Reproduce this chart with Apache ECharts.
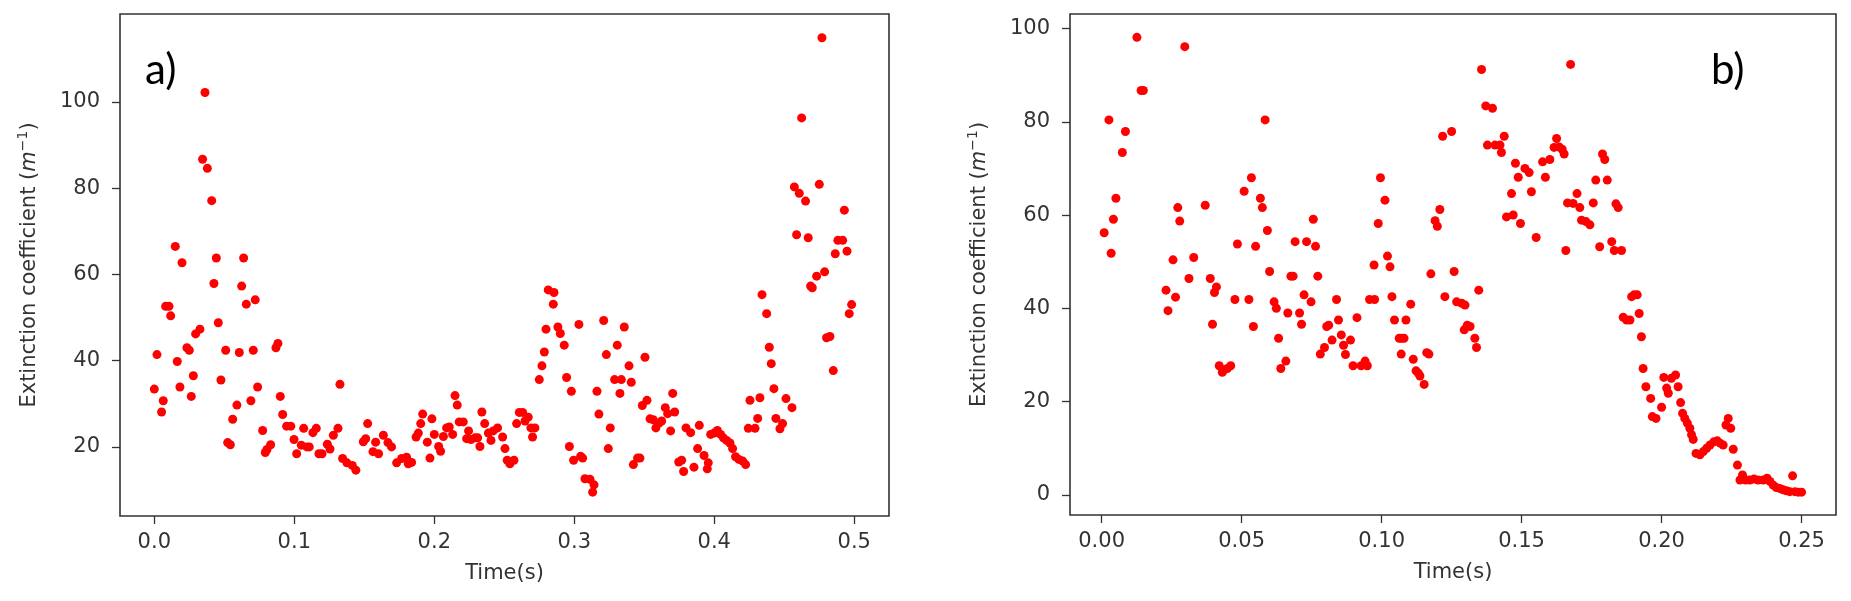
<!DOCTYPE html>
<html>
<head>
<meta charset="utf-8">
<script src="https://cdn.jsdelivr.net/npm/echarts@6/dist/echarts.min.js"></script>
<style>
  html, body { margin: 0; padding: 0; background: #fff; }
  #chart { width: 1851px; height: 601px; }
</style>
</head>
<body>
<div id="chart"></div>
<script>
// panel a) time (s) and extinction coefficient (1/m)
var timeA = [0.0000, 0.0019, 0.0052, 0.0064, 0.0081, 0.0105, 0.0117, 0.0150, 0.0164, 0.0183,
  0.0198, 0.0233, 0.0250, 0.0264, 0.0279, 0.0295, 0.0326, 0.0345, 0.0362, 0.0379,
  0.0410, 0.0426, 0.0443, 0.0457, 0.0476, 0.0510, 0.0524, 0.0543, 0.0560, 0.0590,
  0.0607, 0.0624, 0.0638, 0.0657, 0.0690, 0.0707, 0.0721, 0.0738, 0.0774, 0.0793,
  0.0805, 0.0831, 0.0869, 0.0883, 0.0900, 0.0917, 0.0945, 0.0975, 0.0998, 0.1017,
  0.1050, 0.1067, 0.1090, 0.1107, 0.1133, 0.1157, 0.1176, 0.1198, 0.1236, 0.1255,
  0.1279, 0.1312, 0.1326, 0.1345, 0.1376, 0.1414, 0.1440, 0.1493, 0.1510, 0.1524,
  0.1562, 0.1581, 0.1602, 0.1636, 0.1669, 0.1695, 0.1731, 0.1767, 0.1802, 0.1814,
  0.1838, 0.1870, 0.1886, 0.1903, 0.1917, 0.1950, 0.1969, 0.1983, 0.2000, 0.2031,
  0.2045, 0.2065, 0.2088, 0.2107, 0.2131, 0.2148, 0.2164, 0.2178, 0.2207, 0.2231,
  0.2245, 0.2262, 0.2291, 0.2310, 0.2326, 0.2340, 0.2360, 0.2386, 0.2405, 0.2421,
  0.2452, 0.2488, 0.2505, 0.2521, 0.2540, 0.2569, 0.2588, 0.2607, 0.2631, 0.2648,
  0.2671, 0.2690, 0.2702, 0.2719, 0.2750, 0.2769, 0.2786, 0.2798, 0.2814, 0.2850,
  0.2855, 0.2883, 0.2900, 0.2928, 0.2945, 0.2965, 0.2979, 0.2995, 0.3033, 0.3045,
  0.3060, 0.3076, 0.3112, 0.3131, 0.3141, 0.3162, 0.3176, 0.3210, 0.3229, 0.3243,
  0.3257, 0.3288, 0.3307, 0.3326, 0.3336, 0.3357, 0.3391, 0.3407, 0.3422, 0.3452,
  0.3469, 0.3486, 0.3505, 0.3519, 0.3541, 0.3564, 0.3583, 0.3605, 0.3624, 0.3650,
  0.3667, 0.3688, 0.3703, 0.3717, 0.3746, 0.3767, 0.3781, 0.3798, 0.3831, 0.3855,
  0.3881, 0.3893, 0.3927, 0.3950, 0.3957, 0.3974, 0.3998, 0.4022, 0.4045, 0.4065,
  0.4088, 0.4112, 0.4131, 0.4152, 0.4176, 0.4203, 0.4224, 0.4243, 0.4255, 0.4291,
  0.4310, 0.4326, 0.4341, 0.4374, 0.4393, 0.4407, 0.4426, 0.4440, 0.4469, 0.4488,
  0.4512, 0.4555, 0.4572, 0.4588, 0.4607, 0.4624, 0.4652, 0.4671, 0.4688, 0.4700,
  0.4731, 0.4750, 0.4769, 0.4788, 0.4802, 0.4826, 0.4850, 0.4864, 0.4883, 0.4917,
  0.4929, 0.4948, 0.4964, 0.4981];
var extA = [33.4, 41.4, 28.1, 30.7, 52.6, 52.6, 50.4, 66.5, 39.8, 33.9,
  62.7, 43.0, 42.4, 31.7, 36.5, 46.2, 47.3, 86.7, 102.2, 84.6,
  77.1, 57.9, 63.8, 48.8, 35.5, 42.4, 21.0, 20.5, 26.4, 29.7,
  41.9, 57.3, 63.8, 53.1, 30.7, 42.4, 54.1, 33.9, 23.8, 18.7,
  19.4, 20.5, 43.0, 44.0, 31.7, 27.5, 24.8, 24.8, 21.7, 18.4,
  20.4, 24.3, 20.0, 20.0, 23.3, 24.3, 18.4, 18.4, 20.6, 19.5,
  22.7, 24.3, 34.5, 17.3, 16.3, 15.7, 14.6, 21.2, 21.9, 25.4,
  18.9, 21.1, 18.4, 22.7, 21.0, 20.0, 16.3, 17.3, 17.6, 16.1,
  16.4, 22.3, 23.2, 25.4, 27.6, 21.1, 17.4, 26.5, 22.9, 20.1,
  19.0, 22.4, 24.4, 24.6, 22.9, 31.9, 29.7, 25.8, 25.8, 21.9,
  23.7, 21.7, 22.1, 22.1, 20.1, 28.1, 25.4, 23.2, 21.5, 23.7,
  24.4, 22.3, 19.6, 16.9, 16.1, 16.9, 25.4, 28.0, 28.0, 26.0,
  26.9, 24.4, 22.3, 24.4, 35.6, 38.8, 42.0, 47.3, 56.4, 53.1,
  55.8, 47.8, 46.3, 43.6, 36.1, 20.1, 32.9, 16.9, 48.4, 17.8,
  17.4, 12.6, 12.5, 9.5, 11.2, 32.9, 27.6, 49.3, 41.4, 19.6,
  24.4, 35.6, 43.6, 32.4, 35.6, 47.8, 38.8, 35.0, 15.9, 17.4,
  17.4, 29.6, 40.8, 30.8, 26.5, 26.3, 24.4, 25.5, 26.0, 29.1,
  27.7, 23.7, 32.4, 28.1, 16.5, 16.9, 14.3, 24.4, 23.3, 15.3,
  19.6, 25.0, 18.0, 14.9, 16.3, 22.9, 23.2, 23.8, 22.9, 22.1,
  21.5, 20.9, 19.6, 17.7, 17.1, 16.7, 15.9, 24.3, 30.8, 24.3,
  26.6, 31.4, 55.3, 50.9, 43.1, 39.3, 33.5, 26.6, 24.2, 25.4,
  31.2, 29.1, 80.3, 69.2, 78.8, 96.3, 77.0, 68.5, 57.3, 56.9,
  59.6, 80.9, 114.9, 60.6, 45.3, 45.6, 37.7, 64.8, 67.9, 67.9,
  74.9, 65.4, 50.9, 53.0];

// panel b)
var timeB = [0.0009, 0.0026, 0.0034, 0.0042, 0.0051, 0.0074, 0.0085, 0.0126, 0.0141, 0.0149,
  0.0230, 0.0237, 0.0255, 0.0264, 0.0272, 0.0279, 0.0297, 0.0312, 0.0329, 0.0370,
  0.0388, 0.0396, 0.0403, 0.0410, 0.0420, 0.0431, 0.0438, 0.0449, 0.0461, 0.0476,
  0.0485, 0.0509, 0.0526, 0.0535, 0.0542, 0.0550, 0.0567, 0.0574, 0.0584, 0.0592,
  0.0600, 0.0616, 0.0624, 0.0632, 0.0640, 0.0658, 0.0665, 0.0676, 0.0684, 0.0691,
  0.0707, 0.0714, 0.0723, 0.0732, 0.0748, 0.0756, 0.0764, 0.0772, 0.0781, 0.0796,
  0.0804, 0.0811, 0.0823, 0.0839, 0.0846, 0.0856, 0.0864, 0.0871, 0.0889, 0.0898,
  0.0912, 0.0927, 0.0941, 0.0949, 0.0957, 0.0973, 0.0975, 0.0988, 0.0996, 0.1012,
  0.1021, 0.1030, 0.1037, 0.1046, 0.1063, 0.1070, 0.1071, 0.1080, 0.1087, 0.1104,
  0.1113, 0.1123, 0.1131, 0.1137, 0.1152, 0.1161, 0.1169, 0.1176, 0.1191, 0.1199,
  0.1208, 0.1218, 0.1226, 0.1250, 0.1259, 0.1268, 0.1286, 0.1295, 0.1298, 0.1306,
  0.1316, 0.1333, 0.1339, 0.1347, 0.1357, 0.1372, 0.1378, 0.1396, 0.1405, 0.1423,
  0.1428, 0.1438, 0.1446, 0.1464, 0.1470, 0.1478, 0.1488, 0.1496, 0.1512, 0.1527,
  0.1535, 0.1552, 0.1575, 0.1585, 0.1601, 0.1616, 0.1625, 0.1634, 0.1645, 0.1652,
  0.1658, 0.1664, 0.1675, 0.1684, 0.1698, 0.1708, 0.1714, 0.1730, 0.1744, 0.1756,
  0.1765, 0.1779, 0.1789, 0.1797, 0.1806, 0.1822, 0.1831, 0.1837, 0.1845, 0.1857,
  0.1863, 0.1875, 0.1887, 0.1893, 0.1902, 0.1913, 0.1920, 0.1928, 0.1934, 0.1944,
  0.1961, 0.1967, 0.1980, 0.2000, 0.2008, 0.2018, 0.2024, 0.2035, 0.2050, 0.2059,
  0.2068, 0.2075, 0.2083, 0.2092, 0.2101, 0.2107, 0.2113, 0.2123, 0.2137, 0.2149,
  0.2161, 0.2173, 0.2187, 0.2199, 0.2209, 0.2220, 0.2230, 0.2238, 0.2247, 0.2256,
  0.2271, 0.2280, 0.2289, 0.2301, 0.2315, 0.2330, 0.2345, 0.2363, 0.2377, 0.2387,
  0.2399, 0.2410, 0.2422, 0.2434, 0.2446, 0.2458, 0.2468, 0.2476, 0.2488, 0.2500];
var extB = [56.2, 80.4, 51.8, 59.1, 63.6, 73.4, 77.9, 98.1, 86.7, 86.7,
  43.9, 39.5, 50.4, 42.4, 61.6, 58.7, 96.1, 46.4, 50.9, 62.1,
  46.4, 36.6, 43.4, 44.6, 27.7, 26.3, 26.8, 27.1, 27.7, 41.9,
  53.8, 65.1, 41.9, 68.0, 36.1, 53.3, 63.6, 61.6, 80.4, 56.7,
  47.9, 41.4, 40.0, 33.6, 27.1, 28.7, 39.0, 46.9, 46.9, 54.3,
  39.0, 36.6, 42.9, 54.3, 41.4, 59.1, 53.3, 46.9, 30.2, 31.6,
  36.1, 36.4, 33.2, 41.9, 37.5, 34.3, 32.1, 30.1, 33.2, 27.7,
  38.0, 27.7, 28.7, 27.7, 41.9, 49.3, 41.9, 58.2, 68.0, 63.2,
  51.2, 48.9, 42.5, 37.5, 33.6, 30.2, 33.6, 33.6, 37.5, 40.9,
  29.1, 26.6, 26.1, 25.5, 23.7, 30.5, 30.2, 47.4, 58.8, 57.6,
  61.2, 76.9, 42.5, 77.9, 47.9, 41.4, 41.1, 35.4, 40.7, 36.4,
  36.1, 33.6, 31.6, 43.9, 91.2, 83.4, 75.0, 82.9, 75.0, 75.0,
  73.4, 76.9, 59.6, 64.6, 60.0, 71.1, 68.1, 58.2, 70.0, 69.1,
  65.0, 55.2, 71.4, 68.1, 71.9, 74.5, 76.4, 74.6, 74.1, 73.1,
  52.4, 62.6, 92.3, 62.5, 64.6, 61.6, 58.9, 58.6, 57.9, 62.6,
  67.5, 53.2, 73.1, 71.9, 67.5, 54.3, 52.4, 62.4, 61.6, 52.4,
  38.1, 37.5, 37.5, 42.5, 42.9, 42.9, 38.9, 33.9, 27.1, 23.2,
  20.7, 16.8, 16.4, 18.8, 25.2, 22.9, 21.8, 25.0, 25.7, 23.2,
  19.8, 17.5, 16.4, 15.4, 14.3, 12.9, 11.9, 8.9, 8.6, 9.3,
  10.0, 10.7, 11.4, 11.6, 11.1, 10.7, 15.0, 16.4, 14.3, 9.8,
  6.4, 3.2, 4.3, 3.2, 3.2, 3.4, 3.2, 3.2, 3.6, 2.9,
  2.1, 1.6, 1.4, 1.1, 0.9, 0.7, 4.1, 0.7, 0.6, 0.6];

// tick labels
var xTicksA = [0, 0.1, 0.2, 0.3, 0.4, 0.5];
var yTicksA = [20, 40, 60, 80, 100];
var xTicksB = [0, 0.05, 0.1, 0.15, 0.2, 0.25];
var yTicksB = [0, 20, 40, 60, 80, 100];

var FONT = 'DejaVu Sans';
var TXT = '#333';
var FS = 21;

function pairs (xs, ys) {
  return xs.map(function (x, i) { return [x, ys[i]]; });
}

function xAxis (idx, min, max, ticks, digits) {
  return {
    type: 'value', gridIndex: idx, min: min, max: max,
    splitLine: { show: false },
    axisLine: { show: false, onZero: false },
    axisTick: { show: true, length: 8, customValues: ticks, lineStyle: { color: TXT, width: 1.3 } },
    axisLabel: {
      customValues: ticks, margin: 16, fontSize: FS, color: TXT, fontFamily: FONT,
      formatter: function (v) { return v.toFixed(digits); }
    },
    name: 'Time(s)', nameLocation: 'middle', nameGap: 47,
    nameTextStyle: { fontSize: FS, color: TXT, fontFamily: FONT }
  };
}

function yAxis (idx, min, max, ticks) {
  return {
    type: 'value', gridIndex: idx, min: min, max: max,
    splitLine: { show: false },
    axisLine: { show: false, onZero: false },
    axisTick: { show: true, length: 8, customValues: ticks, lineStyle: { color: TXT, width: 1.3 } },
    axisLabel: { customValues: ticks, margin: 20, fontSize: FS, color: TXT, fontFamily: FONT },
    name: '{t|Extinction coefficient (}{m|m}{s|−1}{t|)}',
    nameLocation: 'middle', nameGap: 76,
    nameTextStyle: {
      color: TXT, fontFamily: FONT, fontSize: FS,
      rich: {
        t: { fontSize: FS, color: TXT, fontFamily: FONT, lineHeight: 28 },
        m: { fontSize: FS, color: TXT, fontFamily: FONT, fontStyle: 'italic', lineHeight: 28 },
        s: { fontSize: 14, color: TXT, fontFamily: FONT, verticalAlign: 'top', lineHeight: 28 }
      }
    }
  };
}

var chart = echarts.init(document.getElementById('chart'));
chart.setOption({
  animation: false,
  backgroundColor: '#fff',
  title: [
    { text: 'a)', left: 140, top: 44, textStyle: { fontFamily: 'Lato', fontSize: 42, fontWeight: 'normal', color: '#000' } },
    { text: 'b)', left: 1706, top: 44, textStyle: { fontFamily: 'Lato', fontSize: 42, fontWeight: 'normal', color: '#000' } }
  ],
  grid: [
    { left: 120, top: 14, width: 769, height: 502, show: true, borderColor: '#333', borderWidth: 1.6, backgroundColor: 'transparent' },
    { left: 1070, top: 14, width: 766, height: 501, show: true, borderColor: '#333', borderWidth: 1.6, backgroundColor: 'transparent' }
  ],
  xAxis: [
    xAxis(0, -0.0245, 0.5248, xTicksA, 1),
    xAxis(1, -0.0113, 0.2623, xTicksB, 2)
  ],
  yAxis: [
    yAxis(0, 3.97, 120.4, yTicksA),
    yAxis(1, -4.3, 103.1, yTicksB)
  ],
  series: [
    {
      type: 'scatter', xAxisIndex: 0, yAxisIndex: 0,
      symbolSize: 9, itemStyle: { color: '#ff0000', opacity: 1 },
      data: pairs(timeA, extA)
    },
    {
      type: 'scatter', xAxisIndex: 1, yAxisIndex: 1,
      symbolSize: 9, itemStyle: { color: '#ff0000', opacity: 1 },
      data: pairs(timeB, extB)
    }
  ]
});
</script>
</body>
</html>
